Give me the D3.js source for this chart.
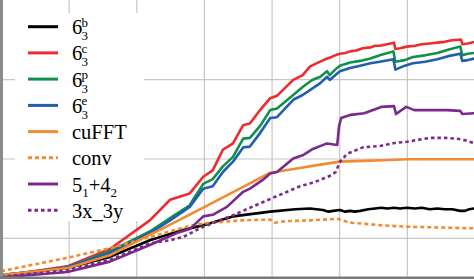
<!DOCTYPE html>
<html><head><meta charset="utf-8">
<script src="https://cdn.jsdelivr.net/npm/d3@7"></script>
<style>html,body{margin:0;padding:0;background:#fff;overflow:hidden}
.leg text{font-family:"Liberation Serif","Times New Roman",serif;}</style>
</head><body><svg id="c" width="474" height="279"></svg>
<script>
// tick positions (no labels visible in the reference)
const xTicks = [100, 200, 300, 400, 500, 600];
const yTicks = [50, 150, 250];

// series values [x, y]
const s63b = [[0,3],[98,12],[161,26],[220,47],[269,60],[299,66],[343,77],[398,83],[435,86],[457,87],[476,85],[484,83],[491,84],[501,85],[509,83],[516,84],[523,83],[531,84],[543,86],[553,87],[562,88],[571,87],[581,88],[590,87],[600,88],[612,87],[622,88],[634,86],[645,87],[656,86],[667,86],[679,84],[686,84],[692,86],[700,87]];
const s63c = [[0,2],[98,14],[161,36],[220,72],[250,98],[279,106],[299,127],[313,135],[328,161],[343,169],[358,192],[368,194],[383,211],[398,226],[408,229],[432,249],[446,255],[457,266],[472,272],[482,276],[486,277],[494,280],[501,282],[509,283],[516,285],[525,286],[535,289],[546,290],[553,292],[560,292],[571,294],[581,296],[583,288],[590,289],[600,291],[612,292],[622,294],[634,295],[645,296],[656,297],[667,299],[680,300],[682,294],[690,295],[700,297]];
const s63p = [[0,2],[98,13],[161,33],[220,58],[250,75],[279,91],[284,98],[299,118],[313,124],[328,140],[343,152],[358,175],[368,176],[383,191],[398,211],[408,213],[432,230],[446,240],[460,249],[472,253],[482,260],[486,255],[494,262],[501,267],[516,271],[531,273],[546,276],[560,280],[580,285],[583,272],[597,274],[609,278],[627,280],[645,283],[661,287],[679,291],[682,280],[690,282],[700,283]];
const s63e = [[0,1],[98,13],[161,31],[220,56],[250,72],[279,89],[299,112],[313,115],[328,133],[343,146],[358,164],[368,165],[383,182],[398,201],[408,202],[432,224],[446,230],[460,238],[472,245],[482,253],[486,249],[494,255],[501,260],[516,264],[531,267],[546,270],[560,272],[580,275],[583,262],[597,267],[609,270],[627,272],[645,275],[661,279],[679,282],[682,273],[690,274],[700,276]];
const cuFFT = [[0,3],[99,12],[161,28],[220,54],[235,60],[299,88],[353,112],[398,132],[442,138],[463,141],[501,146],[535,147],[575,148],[600,149],[700,149]];
const conv = [[0,8],[99,25],[161,37],[220,51],[279,65],[299,68],[353,72],[398,73],[404,69],[420,71],[457,72],[497,74],[509,71],[519,69],[560,66],[600,64],[649,63],[700,62]];
const s5142 = [[0,0],[98,7],[161,20],[220,41],[260,56],[279,61],[299,77],[313,79],[334,89],[358,108],[368,112],[387,123],[398,131],[408,133],[432,150],[446,154],[461,162],[482,169],[497,167],[500,192],[503,201],[517,205],[537,207],[562,215],[581,216],[584,206],[599,215],[611,211],[634,211],[659,211],[679,210],[682,206],[700,207]];
const s3x3y = [[0,1],[98,9],[161,22],[220,43],[250,47],[269,51],[299,64],[339,77],[398,99],[442,115],[463,120],[486,128],[495,133],[501,146],[512,156],[535,164],[562,166],[585,170],[600,171],[634,176],[656,176],[674,175],[686,173],[700,169]];

const seriesNames = ["6_3^b","6_3^c","6_3^p","6_3^e","cuFFT","conv","5_1+4_2","3x_3y"];
const seriesData = [s63b, s63c, s63p, s63e, cuFFT, conv, s5142, s3x3y];
const seriesColors = ["#000000","#ee2b2e","#12904a","#1f5fae","#f28a30","#f28a30","#7a2a8c","#7a2a8c"];
const seriesDash = [null,null,null,null,null,"4,3",null,"3.5,3"];

const svg = d3.select("#c");
const W = 474, H = 279;
const x = d3.scaleLinear().domain([0,700]).range([1,474.5]);
const y = d3.scaleLinear().domain([0,350]).range([277.5,-0.2]);

// grid
svg.append("g").attr("transform","translate(0,277.5)")
  .call(d3.axisBottom(x).tickValues(xTicks).tickSize(-H).tickFormat(""))
  .call(g=>{g.select(".domain").remove(); g.selectAll("line").attr("stroke","#c6c6c6").attr("stroke-width",1.2);});
svg.append("g").attr("transform","translate(1,0)")
  .call(d3.axisLeft(y).tickValues(yTicks).tickSize(-W).tickFormat(""))
  .call(g=>{g.select(".domain").remove(); g.selectAll("line").attr("stroke","#c6c6c6").attr("stroke-width",1.2);});

// legend background
svg.append("rect").attr("x",15).attr("y",13).attr("width",129).attr("height",208).attr("fill","#fff");

// clip
svg.append("clipPath").attr("id","clip").append("rect").attr("x",0).attr("y",0).attr("width",W).attr("height",277);

const line = d3.line().x(d=>x(d[0])).y(d=>y(d[1]));
const plot = svg.append("g").attr("clip-path","url(#clip)");
seriesData.forEach((d,i)=>{
  plot.append("path").datum(d).attr("d",line).attr("fill","none")
    .attr("stroke",seriesColors[i]).attr("stroke-width",2.6)
    .attr("stroke-linejoin","round")
    .attr("stroke-dasharray",seriesDash[i]);
});

// axes lines
svg.append("line").attr("x1",1.5).attr("x2",1.5).attr("y1",0).attr("y2",H).attr("stroke","#8c8c8c").attr("stroke-width",3);
svg.append("line").attr("x1",0).attr("x2",W).attr("y1",278).attr("y2",278).attr("stroke","#7a7a7a").attr("stroke-width",3);

// legend
const legY = [26.7, 52.9, 79.1, 105.4, 131.6, 157.8, 184, 210.2];
const lg = svg.append("g").attr("class","leg").attr("fill","#000");
seriesNames.forEach((nm,i)=>{
  const ly = legY[i];
  lg.append("line").attr("x1",28).attr("x2",58).attr("y1",ly).attr("y2",ly)
    .attr("stroke",seriesColors[i]).attr("stroke-width",3).attr("stroke-dasharray",seriesDash[i]);
  const t = lg.append("text").attr("x",72).attr("y",ly+7.5).attr("font-size",20.5);
  if (nm.startsWith("6_3^")) {
    t.append("tspan").text("6");
    t.append("tspan").attr("x",81.5).attr("dy",-7.5).attr("font-size",13).text(nm.slice(4));
    t.append("tspan").attr("x",81.5).attr("dy",13.5).attr("font-size",13).text("3");
  } else if (nm === "5_1+4_2") {
    t.append("tspan").text("5");
    t.append("tspan").attr("dy",5).attr("font-size",13).text("1");
    t.append("tspan").attr("dy",-5).text("+4");
    t.append("tspan").attr("dy",5).attr("font-size",13).text("2");
  } else {
    t.text(nm);
  }
});
</script></body></html>
